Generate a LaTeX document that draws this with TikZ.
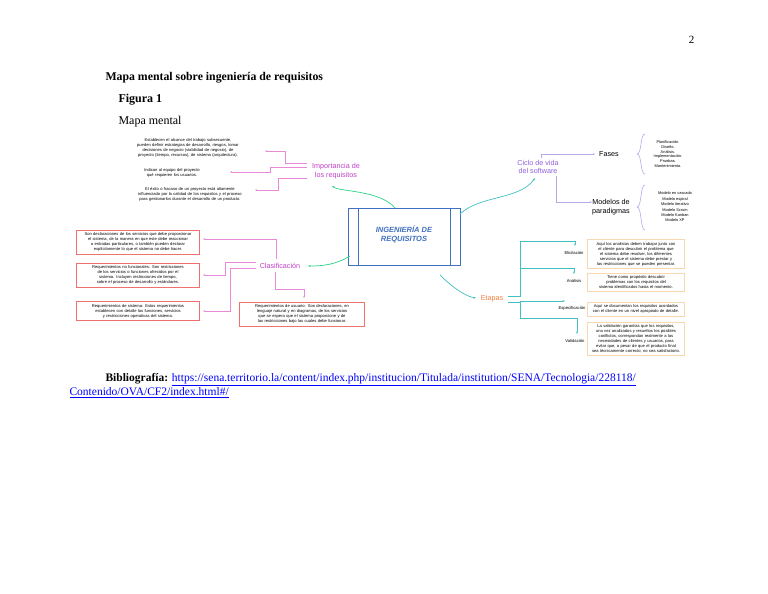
\documentclass[tikz,border=0pt]{standalone}
\usepackage{fontspec}
\setmainfont{Liberation Serif}
\newfontfamily\sans{Liberation Sans}
\usetikzlibrary{arrows.meta}
\hyphenpenalty=10000
\exhyphenpenalty=10000
\definecolor{pinkc}{HTML}{E88AD8}
\definecolor{magc}{HTML}{C040C8}
\definecolor{purc}{HTML}{9060E0}
\definecolor{tealc}{HTML}{40C0C0}
\definecolor{orc}{HTML}{F08040}
\definecolor{bluec}{HTML}{4070C0}
\definecolor{redb}{HTML}{F07070}
\definecolor{orb}{HTML}{F8D8B0}
\definecolor{purl}{HTML}{B8A8E8}
\tikzset{x=1pt,y=-1pt,
 tiny/.style={font=\sans\fontsize{4.1}{5}\selectfont,align=center,text width=#1pt},
 tiny/.default=120,
 redbox/.style={draw=redb,line width=0.6pt,inner sep=2.5pt},
 orbox/.style={draw=orb,line width=0.6pt,inner sep=2.5pt},
 br/.style={font=\sans\fontsize{7.2}{8.5}\selectfont,align=center},
 pl/.style={pinkc,line width=0.6pt,-{Stealth[length=2pt]}},
 tl/.style={tealc,line width=0.7pt,-{Stealth[length=2.5pt]}},
 pul/.style={purl,line width=0.6pt,-{Stealth[length=2pt]}},
}
\begin{document}
\begin{tikzpicture}
\useasboundingbox (0,0) rectangle (768,594);
\fill[white] (0,0) rectangle (768,594);
\node[anchor=east,font=\fontsize{11}{12}\selectfont] (pg) at (698,40) {2};
\node[anchor=west,font=\bfseries\fontsize{11.8}{13}\selectfont] (tt) at (102,78) {Mapa mental sobre ingeniería de requisitos};
\node[anchor=west,font=\bfseries\fontsize{12}{13}\selectfont] (fg) at (115,100) {Figura 1};
\node[anchor=west,font=\fontsize{12}{13}\selectfont] (mm) at (115,122) {Mapa mental};
% center
\draw[bluec,line width=0.7pt] (348,208) rectangle (460,265);
\draw[bluec,line width=0.6pt] (358,208) -- (358,265) (450,208) -- (450,265);
\node[font=\sans\bfseries\itshape\fontsize{7.5}{9}\selectfont,text=bluec,align=center] (c) at (404,234) {INGENIERÍA DE\\REQUISITOS};
% importancia
\node[br,text=magc] (imp) at (336,171) {Importancia de\\los requisitos};
\node[tiny=135] (i1) at (188,148) {Establecen el alcance del trabajo subsecuente, pueden definir estrategias de desarrollo, riesgos, tomar decisiones de negocio (viabilidad de negocio), de proyecto (tiempo, recursos), de sistema (arquitectura).};
\node[tiny=75] (i2) at (172,173) {Indican al equipo del proyecto qué requieren los usuarios.};
\node[tiny=130] (i3) at (190,194) {El éxito o fracaso de un proyecto está altamente influenciado por la calidad de los requisitos y el proceso para gestionarlos durante el desarrollo de un producto.};
\draw[pl] (307,163) -- (285,163) -- (285,151) -- (265,151);
\draw[pl] (307,167) -- (270,167) -- (270,172) -- (230,172);
\draw[pl] (307,178) -- (278,178) -- (278,190) -- (255,190);
\draw[tealc!70!green,line width=0.7pt,-{Stealth[length=2.5pt]}] (395,208) .. controls (380,190) and (340,192) .. (332,186);
% ciclo
\node[br,text=purc] (cic) at (538,167) {Ciclo de vida\\del software};
\draw[tealc,line width=0.7pt,-{Stealth[length=2.5pt]}] (460,214) .. controls (480,195) and (520,200) .. (535,178);
\node[br] (fas) at (609,154) {Fases};
\node[br] (mod) at (611,207) {Modelos de\\paradigmas};
\draw[purl,line width=0.6pt] (541,158) -- (541,154);
\draw[pul] (541,154) -- (595,154);
\draw[pul] (556,176) -- (556,202) -- (592,202);
\draw[purl,line width=0.6pt] (645,134) .. controls (640,134) and (642,154) .. (637,154) .. controls (642,154) and (640,174) .. (645,174);
\node[font=\sans\fontsize{3.9}{4.8}\selectfont,align=center] (fl) at (668,154) {Planificación.\\Diseño.\\Análisis.\\Implementación.\\Pruebas.\\Mantenimiento.};
\draw[purl,line width=0.6pt] (645,185) .. controls (640,185) and (642,207) .. (637,207) .. controls (642,207) and (640,230) .. (645,230);
\node[font=\sans\fontsize{3.9}{5.4}\selectfont,align=center] (ml) at (675,207) {Modelo en cascada\\Modelo espiral\\Modelo iterativo\\Modelo Scrum\\Modelo Kanban\\Modelo XP};
% clasificacion
\node[br,text=magc] (cla) at (280,266) {Clasificación};
\draw[tealc!70!green,line width=0.7pt,-{Stealth[length=2.5pt]}] (350,256) .. controls (335,265) and (322,266) .. (308,266);
\node[redbox,tiny=118] (k1) at (138,242) {Son declaraciones de los servicios que debe proporcionar el sistema, de la manera en que este debe reaccionar a entradas particulares, o también pueden declarar explícitamente lo que el sistema no debe hacer.};
\node[redbox,tiny=118] (k2) at (138,275) {Requerimientos no funcionales: Son restricciones de los servicios o funciones ofrecidos por el sistema. Incluyen restricciones de tiempo, sobre el proceso de desarrollo y estándares.};
\node[redbox,tiny=118] (k3) at (138,311) {Requerimientos de sistema: Estos requerimientos establecen con detalle las funciones, servicios y restricciones operativas del sistema.};
\node[redbox,tiny=120] (k4) at (302,314) {Requerimientos de usuario: Son declaraciones, en lenguaje natural y en diagramas, de los servicios que se espera que el sistema proporcione y de las restricciones bajo las cuales debe funcionar.};
\draw[pl] (276,259) -- (276,239) -- (203,239);
\draw[pl] (256,262) -- (225,262) -- (225,275) -- (203,275);
\draw[pl] (256,268) -- (230,268) -- (230,311) -- (203,311);
\draw[pl] (275,272) -- (275,289) -- (304,289) -- (304,298);
% etapas
\node[br,text=orc] (eta) at (492,299) {Etapas};
\draw[tealc,line width=0.7pt,-{Stealth[length=2.5pt]}] (440,275) .. controls (455,290) and (468,297) .. (476,298);
\node[font=\sans\fontsize{4.2}{5}\selectfont] (e1) at (574,253) {Elicitación};
\node[font=\sans\fontsize{4.2}{5}\selectfont] (e2) at (574,281) {Análisis};
\node[font=\sans\fontsize{4.2}{5}\selectfont] (e3) at (572,308) {Especificación};
\node[font=\sans\fontsize{4.2}{5}\selectfont] (e4) at (575,341) {Validación};
\draw[tl] (508,296) -- (520,296) -- (520,241) -- (575,241) -- (575,246);
\draw[tl] (520,268) -- (574,268) -- (574,274);
\draw[tl] (520,301) -- (565,301);
\draw[tl] (520,301) -- (520,318) -- (577,318) -- (577,334);
\draw[tealc,line width=0.7pt] (508,302) -- (520,302);
\node[orbox,tiny=92] (d1) at (636,254) {Aquí los analistas deben trabajar junto con el cliente para descubrir el problema que el sistema debe resolver, los diferentes servicios que el sistema debe prestar y las restricciones que se pueden presentar.};
\node[orbox,tiny=92] (d2) at (636,282) {Tiene como propósito descubrir problemas con los requisitos del sistema identificados hasta el momento.};
\node[orbox,tiny=92] (d3) at (636,309) {Aquí se documentan los requisitos acordados con el cliente en un nivel apropiado de detalle.};
\node[orbox,tiny=92] (d4) at (636,339) {La validación garantiza que los requisitos, una vez analizados y resueltos los posibles conflictos, correspondan realmente a las necesidades de clientes y usuarios, para evitar que, a pesar de que el producto final sea técnicamente correcto, no sea satisfactorio.};
% bibliography
\node[anchor=west,font=\fontsize{11.5}{13}\selectfont,align=left] (bib) at (102,380) {\textbf{Bibliografía:} \textcolor{blue}{\underline{https://sena.territorio.la/content/index.php/institucion/Titulada/institution/SENA/Tecnologia/228118/}}};
\node[anchor=west,font=\fontsize{11.5}{13}\selectfont,text=blue] (bib2) at (66,393) {\underline{Contenido/OVA/CF2/index.html\#/}};
\end{tikzpicture}
\end{document}
